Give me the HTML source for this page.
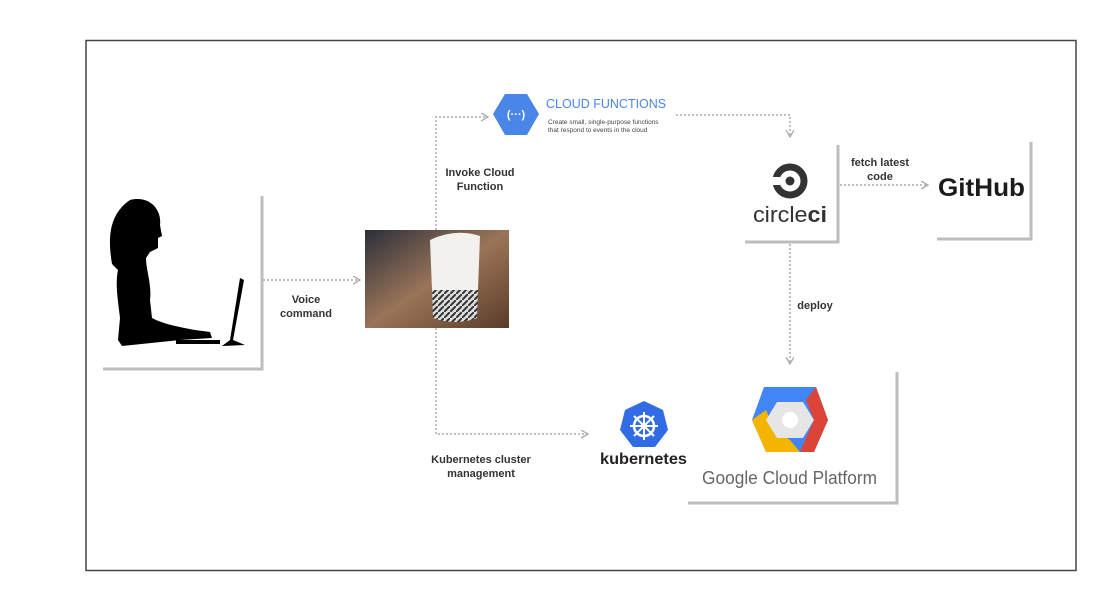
<!DOCTYPE html>
<html><head><meta charset="utf-8"><style>
html,body{margin:0;padding:0;background:#fff;}
svg{display:block;font-family:"Liberation Sans",Arial,sans-serif;}
</style></head><body>
<svg width="1095" height="590" viewBox="0 0 1095 590" xmlns="http://www.w3.org/2000/svg">
<defs>
<marker id="ar" markerWidth="10" markerHeight="10" refX="7" refY="4" orient="auto" markerUnits="userSpaceOnUse">
<path d="M0,0 L7,4 L0,8" fill="none" stroke="#aaa" stroke-width="1.3"/>
</marker>
</defs>
<rect x="86" y="40.5" width="990" height="530" fill="#fff" stroke="#444" stroke-width="1.5"/>

<g stroke="#bdbdbd" stroke-width="3" fill="none">
<path d="M262,196 V369 H103"/>
<path d="M838,145 V242 H745"/>
<path d="M1031,142 V239 H937"/>
<path d="M897,372 V503 H688"/>
</g>

<g fill="#000">
<path d="M130,200 C150,195 162,210 160,225 L162,236 L158,238 L158,248 L150,252 L146,258 C146,270 152,285 150,300 L152,318 C165,325 185,328 195,330 L210,332 L212,338 L180,340 L122,346 L118,340 L120,318 C118,300 115,285 118,270 L112,264 C108,240 108,215 130,200 Z"/>
<rect x="176" y="340" width="44" height="4"/>
<path d="M240,278 L244,280 L233,340 L245,345 L222,346 L230,340 Z"/>
</g>

<defs>
<linearGradient id="bg" x1="0" y1="0" x2="1" y2="1"><stop offset="0" stop-color="#2b2f3a"/><stop offset="0.5" stop-color="#9a7458"/><stop offset="1" stop-color="#5b3c28"/></linearGradient>
<pattern id="zz" width="6" height="6" patternUnits="userSpaceOnUse"><rect width="6" height="6" fill="#ddd"/><path d="M0,6 L6,0" stroke="#333" stroke-width="2"/></pattern>
</defs>
<rect x="365" y="230" width="144" height="98" fill="url(#bg)"/>
<path d="M430,240 Q455,228 480,236 L478,290 L432,290 Z" fill="#f2f1ee"/>
<path d="M432,290 L478,290 L477,318 Q455,326 433,318 Z" fill="url(#zz)"/>

<g stroke="#aaa" stroke-width="1.5" stroke-dasharray="2,2" fill="none">
<path d="M263,280 H360" marker-end="url(#ar)"/>
<path d="M436,230 V117 H488" marker-end="url(#ar)"/>
<path d="M676,115 H790 V137" marker-end="url(#ar)"/>
<path d="M840,185 H928" marker-end="url(#ar)"/>
<path d="M790,244 V364" marker-end="url(#ar)"/>
<path d="M436,328 V434 H588" marker-end="url(#ar)"/>
</g>

<g font-size="11" font-weight="bold" fill="#333" text-anchor="middle">
<text x="306" y="303">Voice</text><text x="306" y="317">command</text>
<text x="480" y="176">Invoke Cloud</text><text x="480" y="190">Function</text>
<text x="880" y="166">fetch latest</text><text x="880" y="180">code</text>
<text x="815" y="309">deploy</text>
<text x="481" y="463">Kubernetes cluster</text><text x="481" y="477">management</text>
</g>

<polygon points="505,94 527,94 539,114 527,135 505,135 493,114" fill="#4a86e8"/>
<text x="516" y="118" text-anchor="middle" font-size="11" font-weight="bold" fill="#fff">(···)</text>
<text x="546" y="108" font-size="12.5" fill="#4a86e8">CLOUD FUNCTIONS</text>
<text x="548" y="124" font-size="6.5" fill="#444">Create small, single-purpose functions</text>
<text x="548" y="132" font-size="6.5" fill="#444">that respond to events in the cloud</text>

<circle cx="790" cy="181" r="14" fill="none" stroke="#333" stroke-width="7"/>
<rect x="770" y="177" width="10" height="8" fill="#fff"/>
<circle cx="790" cy="181" r="4.5" fill="#333"/>
<text x="753" y="222" font-size="22" fill="#333" textLength="74" lengthAdjust="spacingAndGlyphs">circle<tspan font-weight="bold">ci</tspan></text>

<text x="938" y="196" font-size="25" font-weight="bold" fill="#1b1b1b" textLength="87" lengthAdjust="spacingAndGlyphs">GitHub</text>

<polygon points="644,401 663,410 668,430 655,447 633,447 620,430 625,410" fill="#326ce5"/>
<circle cx="644" cy="426" r="10" fill="none" stroke="#fff" stroke-width="2.5"/>
<g stroke="#fff" stroke-width="2"><path d="M644,412 V440 M630,426 H658 M634,416 L654,436 M654,416 L634,436"/></g>
<circle cx="644" cy="426" r="3" fill="#fff"/>
<text x="600" y="464" font-size="16" font-weight="bold" fill="#222" textLength="87" lengthAdjust="spacingAndGlyphs">kubernetes</text>

<polygon points="764,387 816,387 828,420 814,452 766,452 752,420" fill="#4285f4"/>
<polygon points="816,387 828,420 814,452 800,452 814,420 806,400" fill="#db4437"/>
<polygon points="752,420 766,452 800,452 790,440 774,430 766,410" fill="#f4b400"/>
<polygon points="777,402 803,402 814,420 803,438 777,438 766,420" fill="#e6e6e6"/>
<circle cx="790" cy="420" r="8" fill="#fff"/>
<text x="702" y="484" font-size="18" fill="#666" textLength="175" lengthAdjust="spacingAndGlyphs">Google Cloud Platform</text>
</svg>
</body></html>
